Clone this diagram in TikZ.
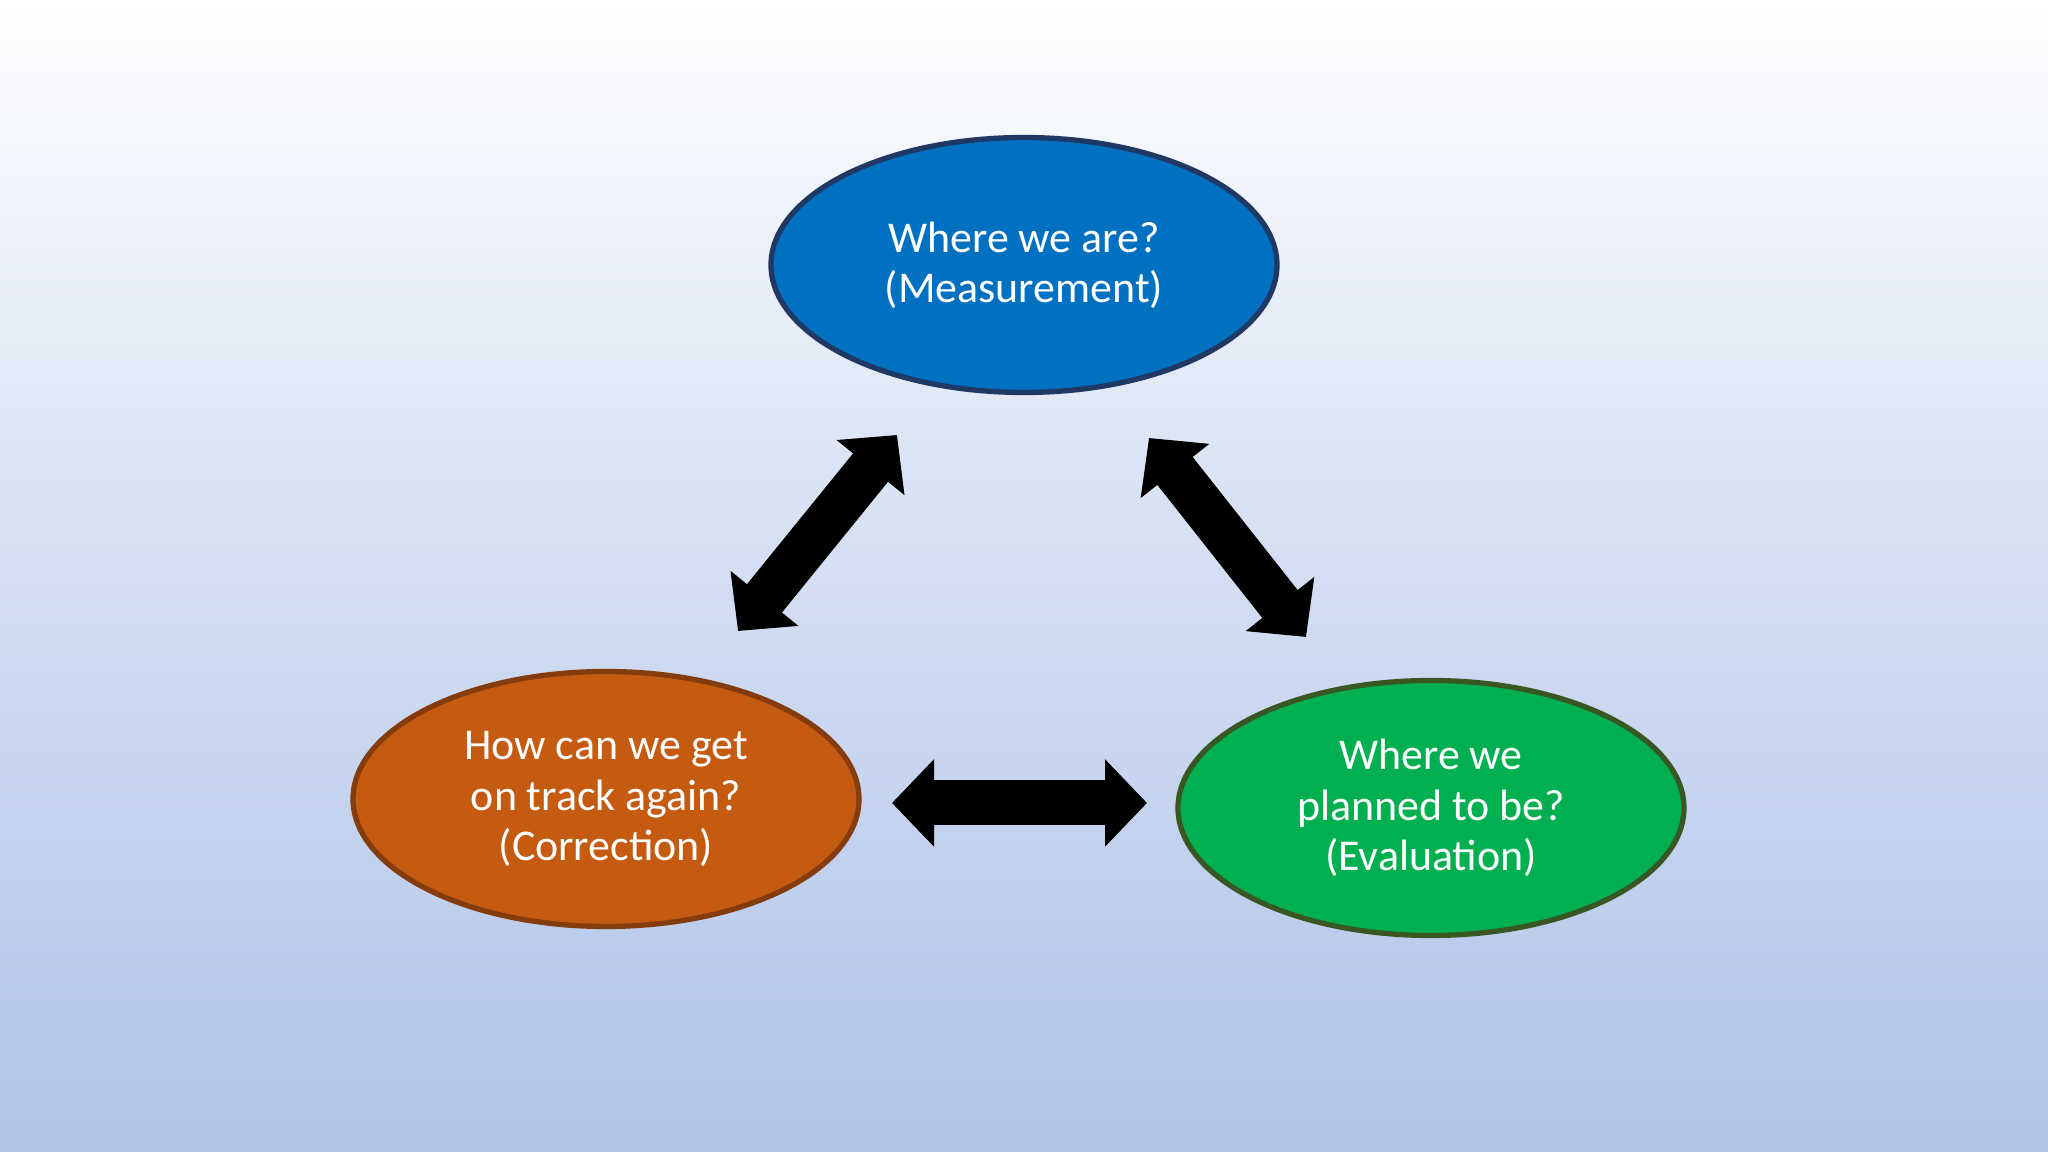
\documentclass[tikz,border=0pt]{standalone}
\usepackage{fontspec}
\setmainfont{Carlito}
\usetikzlibrary{arrows.meta,shapes.geometric}
\definecolor{topblue}{HTML}{0070C0}
\definecolor{topline}{HTML}{203864}
\definecolor{corange}{HTML}{C55A11}
\definecolor{corline}{HTML}{843C0C}
\definecolor{egreen}{HTML}{00B050}
\definecolor{egline}{HTML}{385723}
\definecolor{bgbottom}{HTML}{AFC3E8}
\begin{document}
\begin{tikzpicture}
    \tikzstyle{stage}=[ellipse, draw, line width=1.5pt, minimum width=5.06cm, minimum height=2.55cm, inner sep=0pt, text=white, align=center, font=\fontsize{12.5}{14.3}\selectfont];
    \tikzstyle{link}=[line width=0.45cm, {Triangle[length=0.42cm,width=0.85cm]}-{Triangle[length=0.42cm,width=0.85cm]}];
    
    \shade[top color=white, bottom color=bgbottom, middle color=bgbottom!55!white] (0,0) rectangle (20.48,11.52);
    \useasboundingbox (0,0) rectangle (20.48,11.52);
    
    \node[stage, fill=topblue, draw=topline] (measure) at (10.24,8.87) {Where we are?\\(Measurement)};
    \node[stage, fill=corange, draw=corline] (correct) at (6.06,3.53) {How can we get\\on track again?\\(Correction)};
    \node[stage, fill=egreen, draw=egline] (evaluate) at (14.31,3.44) {Where we\\planned to be?\\(Evaluation)};
    
    \coordinate (l1) at (7.38,5.21);
    \coordinate (l2) at (8.97,7.17);
    \coordinate (r1) at (13.06,5.15);
    \coordinate (r2) at (11.49,7.14);
    \coordinate (h1) at (8.92,3.49);
    \coordinate (h2) at (11.47,3.49);
    
    \draw[link] (l1) -- (l2);
    \draw[link] (r1) -- (r2);
    \draw[link] (h1) -- (h2);
    
\end{tikzpicture}
\end{document}
